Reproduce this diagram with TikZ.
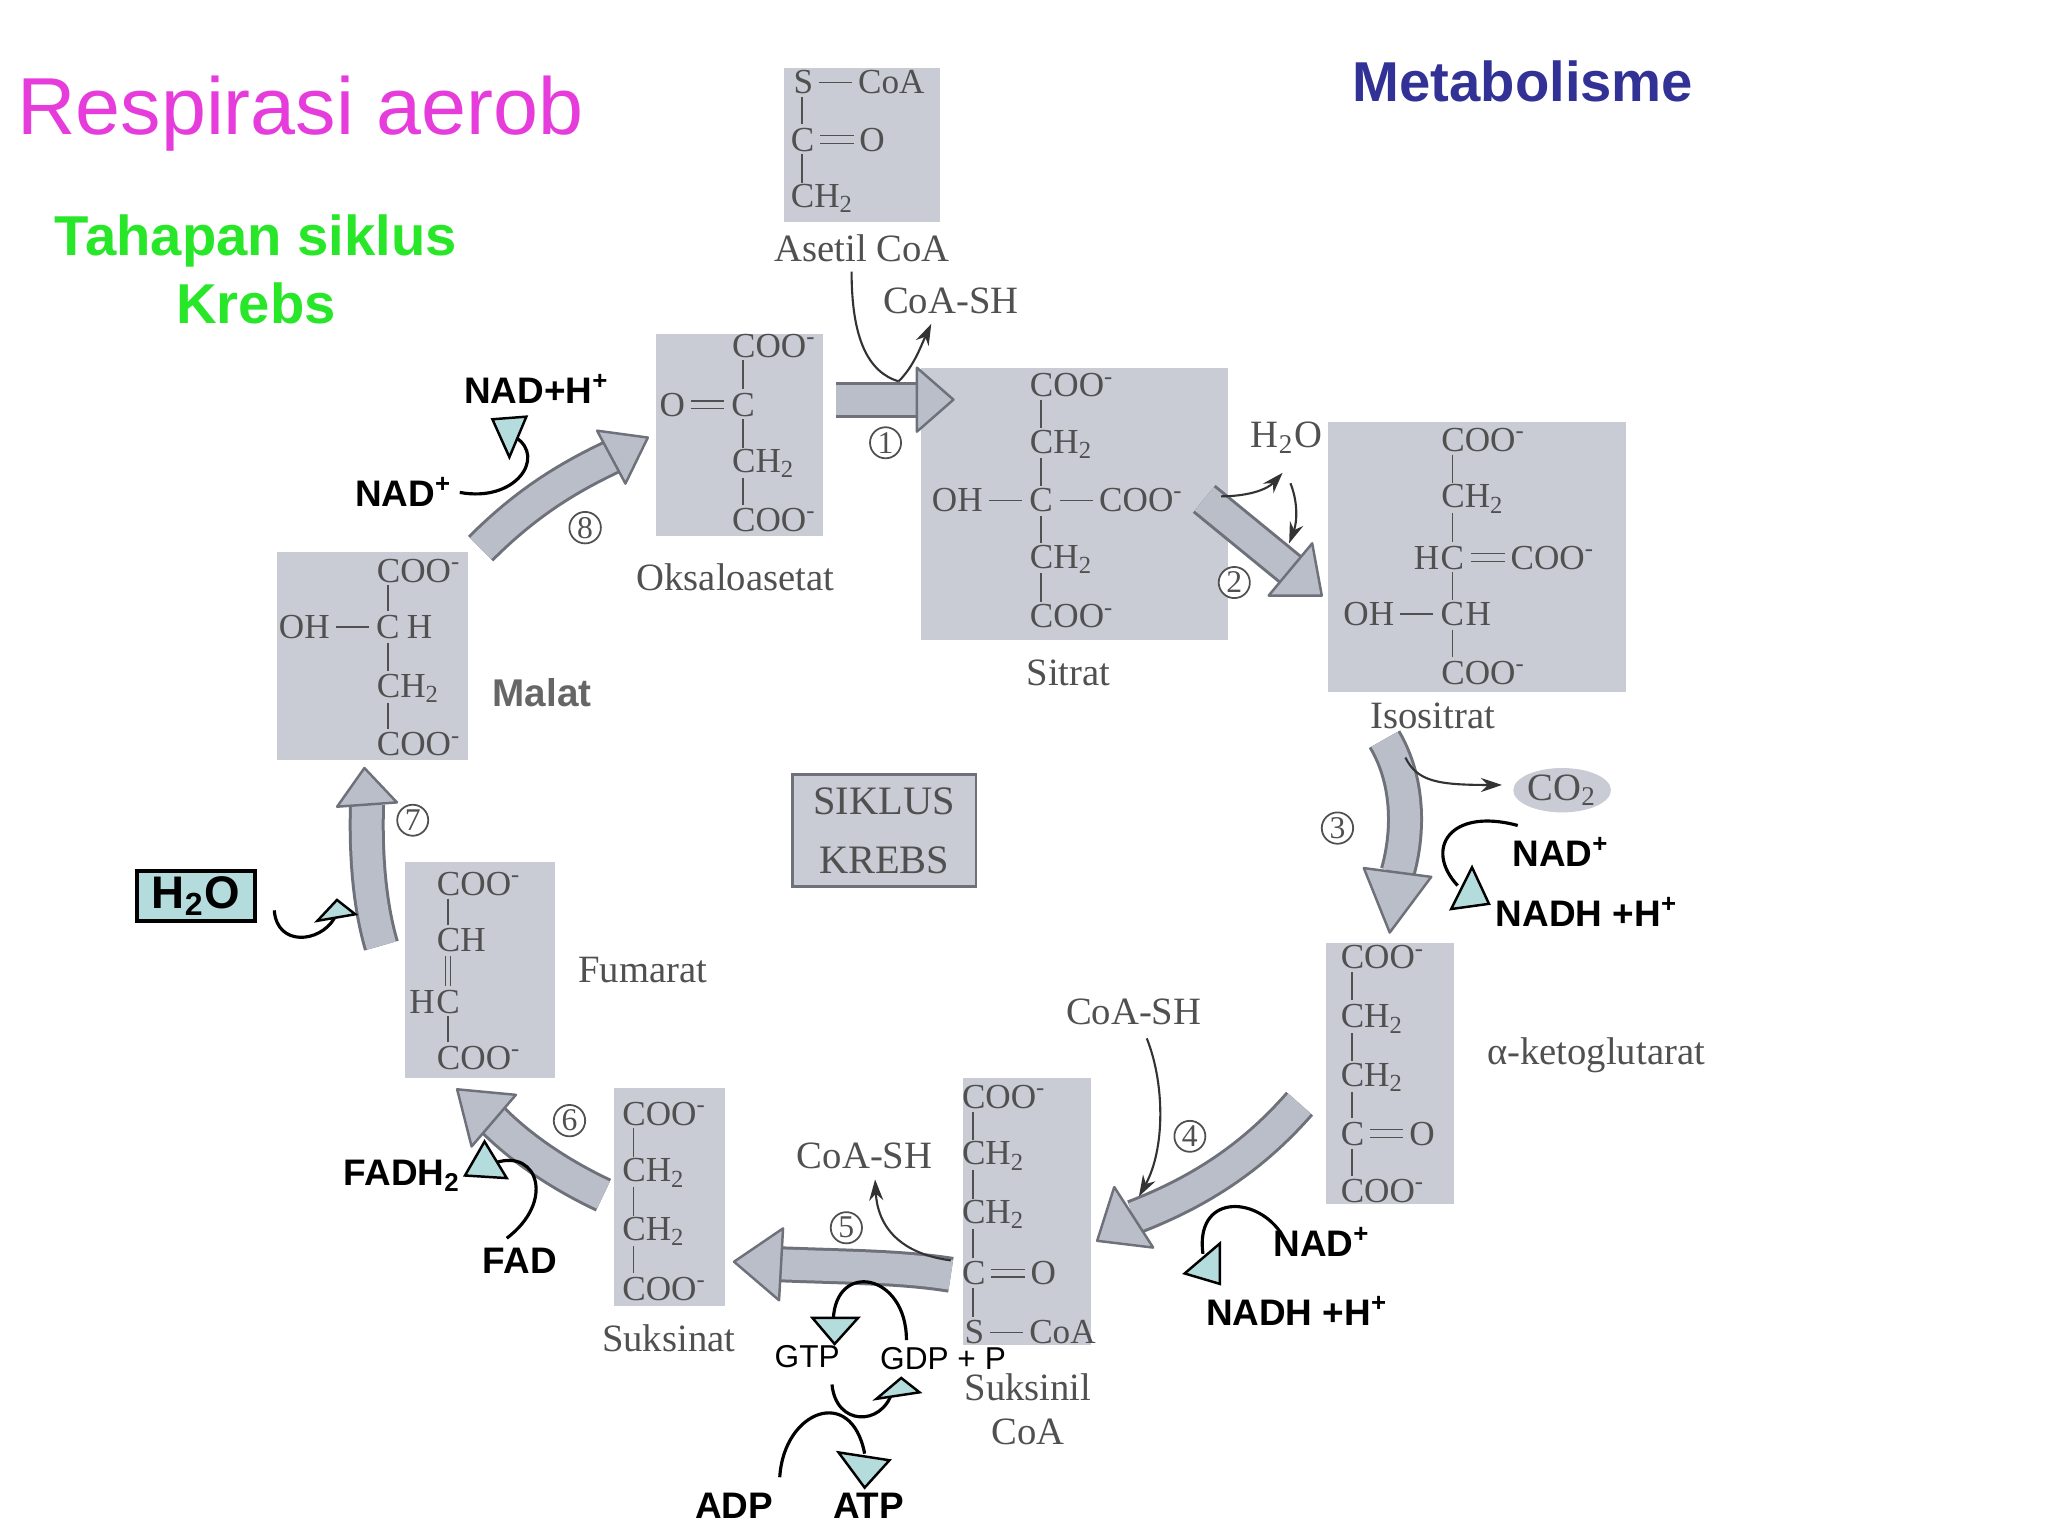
\documentclass[tikz,border=0pt]{standalone}
\usepackage{fontspec}
\setmainfont{Liberation Serif}
\newfontfamily\lsans{Liberation Sans}
\usetikzlibrary{calc,arrows.meta,shapes.geometric}
\definecolor{boxc}{HTML}{C9CCD5}
\definecolor{molc}{HTML}{505050}
\definecolor{arrin}{HTML}{BABEC8}
\definecolor{arrout}{HTML}{6E717A}
\definecolor{teal}{HTML}{B4DCDC}
\newcommand\mm{\textsuperscript{-}}
\newcommand\bd{\,\rule[0.3em]{0.95em}{0.45pt}\,}
\newcommand\db{\,\rlap{\rule[0.2em]{0.95em}{0.45pt}}\rule[0.42em]{0.95em}{0.45pt}\,}
\newcommand\molL[3]{\node[m,anchor=west] at (#1-9,#2) {#3};}
\newcommand\molC[5]{\node[m] (mc) at (#1,#2) {#4};
 \node[m,anchor=base east] (mp) at (mc.base west) {#3};
 \node[m,anchor=base west] (ms) at (mc.base east) {#5};}
\begin{document}
\begin{tikzpicture}[x=0.013061cm,y=-0.013061cm,
 mbox/.style={fill=boxc,draw=none},
 m/.style={font=\fontsize{10}{12}\selectfont,text=molc,inner sep=0pt},
 lab/.style={font=\fontsize{11}{13}\selectfont,text=molc,inner sep=0pt},
 bond/.style={draw=molc,line width=0.5pt},
 fatout/.style={draw=arrout,line width=0.36cm},
 fatin/.style={draw=arrin,line width=0.30cm},
 fathead/.style={fill=arrin,draw=arrout,line width=0.7pt,line join=round},
 num/.style={circle,draw=molc,line width=0.5pt,fill=white,inner sep=0.5pt,minimum size=0.3cm,font=\fontsize{9}{9}\selectfont,text=molc},
 thin/.style={draw=black!80,line width=0.6pt,-{Stealth[length=6pt,width=4pt]}},
 rx/.style={draw=black,line width=0.9pt},
 tri/.style={fill=teal,draw=black,line width=0.7pt,line join=miter},
 bl/.style={font=\lsans\bfseries\fontsize{10.5}{12}\selectfont,inner sep=0pt},
 sl/.style={font=\lsans\fontsize{9}{11}\selectfont,inner sep=0pt}]
\useasboundingbox (0,0) rectangle (1568,1176);
\fill[white] (0,0) rectangle (1568,1176);
% titles
\node[font=\lsans\fontsize{23}{26}\selectfont,text={rgb,255:red,230;green,60;blue,220}] (t1) at (230,87) {Respirasi aerob};
\node[font=\lsans\bfseries\fontsize{16}{18}\selectfont,text={rgb,255:red,50;green,50;blue,150}] (t2) at (1166,62) {Metabolisme};
\node[font=\lsans\bfseries\fontsize{16}{19.3}\selectfont,text={rgb,255:red,40;green,230;blue,40},align=center] (t3) at (196,206) {Tahapan siklus\\Krebs};
% boxes
\fill[mbox] (600,52) rectangle (720,170);
\fill[mbox] (502,256) rectangle (630,410);
\fill[mbox] (705,282) rectangle (940,490);
\fill[mbox] (1017,323) rectangle (1245,530);
\fill[mbox] (1015,722) rectangle (1113,922);
\fill[mbox] (737,825) rectangle (835,1030);
\fill[mbox] (470,833) rectangle (555,1000);
\fill[mbox] (310,660) rectangle (425,825);
\fill[mbox] (212,423) rectangle (358,582);
\node[draw=arrout,line width=0.8pt,fill=boxc,minimum width=1.72cm,text width=1.6cm,align=center,minimum height=1.12cm,font=\fontsize{11.5}{17}\selectfont,text=molc] (sk) at (677,636) {SIKLUS\\KREBS};
% Asetil CoA
\node[m,anchor=west] (a1) at (607,63) {S\bd CoA};
\molL{614}{107}{C\db O}
\molL{614}{152}{CH\textsubscript{2}}
\draw[bond] (614,74)--(614,95) (614,118)--(614,140);
\node[lab] (la) at (660,190) {Asetil CoA};
% Oksaloasetat
\molL{569}{265}{COO\mm}
\molC{569}{310}{O\db}{C}{}
\molL{569}{355}{CH\textsubscript{2}}
\molL{569}{398}{COO\mm}
\draw[bond] (569,276)--(569,298) (569,321)--(569,343) (569,366)--(569,387);
\node[lab] (lo) at (563,442) {Oksaloasetat};
% Sitrat
\molL{797}{295}{COO\mm}
\molL{797}{340}{CH\textsubscript{2}}
\molC{797}{383}{OH\bd}{C}{\bd COO\mm}
\molL{797}{428}{CH\textsubscript{2}}
\molL{797}{472}{COO\mm}
\draw[bond] (797,306)--(797,328) (797,351)--(797,372) (797,395)--(797,416) (797,439)--(797,461);
\node[lab] (ls) at (818,515) {Sitrat};
% Isositrat
\molL{1112}{337}{COO\mm}
\molL{1112}{382}{CH\textsubscript{2}}
\molC{1112}{427}{H}{C}{\db COO\mm}
\molC{1112}{470}{OH\bd}{C}{H}
\molL{1112}{515}{COO\mm}
\draw[bond] (1112,348)--(1112,370) (1112,393)--(1112,415) (1112,438)--(1112,459) (1112,482)--(1112,503);
\node[lab] (li) at (1097,548) {Isositrat};
% alpha-ketoglutarat
\molL{1035}{733}{COO\mm}
\molL{1035}{780}{CH\textsubscript{2}}
\molL{1035}{825}{CH\textsubscript{2}}
\molL{1035}{868}{C\db O}
\molL{1035}{912}{COO\mm}
\draw[bond] (1035,744)--(1035,766) (1035,791)--(1035,812) (1035,836)--(1035,856) (1035,880)--(1035,900);
\node[lab] (lk) at (1222,808) {α-ketoglutarat};
% Suksinil CoA
\molL{745}{840}{COO\mm}
\molL{745}{885}{CH\textsubscript{2}}
\molL{745}{930}{CH\textsubscript{2}}
\molL{745}{975}{C\db O}
\node[m,anchor=west] (u5) at (738,1020) {S\bd CoA};
\draw[bond] (745,851)--(745,873) (745,896)--(745,918) (745,941)--(745,963) (745,986)--(745,1008);
\node[lab] (lu1) at (787,1062) {Suksinil};
\node[lab] (lu2) at (787,1096) {CoA};
% Suksinat
\molL{485}{853}{COO\mm}
\molL{485}{898}{CH\textsubscript{2}}
\molL{485}{943}{CH\textsubscript{2}}
\molL{485}{987}{COO\mm}
\draw[bond] (485,864)--(485,886) (485,909)--(485,931) (485,954)--(485,975);
\node[lab] (ln) at (512,1025) {Suksinat};
% Fumarat
\molL{343}{677}{COO\mm}
\molL{343}{720}{CH}
\molC{343}{767}{H}{C}{}
\molL{343}{810}{COO\mm}
\draw[bond] (343,688)--(343,708) (343,798)--(343,778) (341,732)--(341,755) (345,732)--(345,755);
\node[lab] (lf) at (492,743) {Fumarat};
% Malat
\molL{297}{437}{COO\mm}
\molC{297}{480}{OH\bd}{C}{\,H}
\molL{297}{527}{CH\textsubscript{2}}
\molL{297}{570}{COO\mm}
\draw[bond] (297,448)--(297,468) (297,492)--(297,514) (297,538)--(297,558);
\node[font=\lsans\bfseries\fontsize{11}{12}\selectfont,text=black!60] (lm) at (415,530) {Malat};
% fat arrows
\coordinate (p1) at (702,306); \coordinate (q1) at (730,306);
\draw[fatout] (640,306)--(p1); \draw[fatin] (640,306)--(p1);
\draw[fathead] ($(p1)!0.32cm!90:(q1)$)--(q1)--($(p1)!0.32cm!-90:(q1)$)--cycle;
\coordinate (p2) at (988,436); \coordinate (q2) at (1012,456);
\draw[fatout] (922,382)--(p2); \draw[fatin] (922,382)--(p2);
\draw[fathead] ($(p2)!0.34cm!90:(q2)$)--(q2)--($(p2)!0.34cm!-90:(q2)$)--cycle;
\coordinate (p3) at (1070,668); \coordinate (q3) at (1064,714);
\draw[fatout] (1060,566) .. controls (1080,600) and (1078,640) .. (p3);
\draw[fatin] (1060,566) .. controls (1080,600) and (1078,640) .. (p3);
\draw[fathead] ($(p3)!0.34cm!90:(q3)$)--(q3)--($(p3)!0.34cm!-90:(q3)$)--cycle;
\coordinate (p4) at (868,932); \coordinate (q4) at (840,950);
\draw[fatout] (995,845) .. controls (960,885) and (920,912) .. (p4);
\draw[fatin] (995,845) .. controls (960,885) and (920,912) .. (p4);
\draw[fathead] ($(p4)!0.36cm!90:(q4)$)--(q4)--($(p4)!0.36cm!-90:(q4)$)--cycle;
\coordinate (p5) at (598,968); \coordinate (q5) at (562,966);
\draw[fatout] (728,976) .. controls (690,970) and (650,970) .. (p5);
\draw[fatin] (728,976) .. controls (690,970) and (650,970) .. (p5);
\draw[fathead] ($(p5)!0.36cm!90:(q5)$)--(q5)--($(p5)!0.36cm!-90:(q5)$)--cycle;
\coordinate (p6) at (378,858); \coordinate (q6) at (350,834);
\draw[fatout] (462,915) .. controls (430,900) and (400,880) .. (p6);
\draw[fatin] (462,915) .. controls (430,900) and (400,880) .. (p6);
\draw[fathead] ($(p6)!0.34cm!90:(q6)$)--(q6)--($(p6)!0.34cm!-90:(q6)$)--cycle;
\coordinate (p7) at (281,616); \coordinate (q7) at (279,588);
\draw[fatout] (292,724) .. controls (282,690) and (280,650) .. (p7);
\draw[fatin] (292,724) .. controls (282,690) and (280,650) .. (p7);
\draw[fathead] ($(p7)!0.30cm!90:(q7)$)--(q7)--($(p7)!0.30cm!-90:(q7)$)--cycle;
\coordinate (p8) at (468,350); \coordinate (q8) at (496,335);
\draw[fatout] (368,420) .. controls (400,388) and (430,368) .. (p8);
\draw[fatin] (368,420) .. controls (400,388) and (430,368) .. (p8);
\draw[fathead] ($(p8)!0.30cm!90:(q8)$)--(q8)--($(p8)!0.30cm!-90:(q8)$)--cycle;
% circled numbers
\node[num] (c1) at (678,339) {1};
\node[num] (c2) at (945,446) {2};
\node[num] (c3) at (1024,634) {3};
\node[num] (c4) at (911,870) {4};
\node[num] (c5) at (648,940) {5};
\node[num] (c6) at (436,858) {6};
\node[num] (c7) at (316,628) {7};
\node[num] (c8) at (448,404) {8};
% thin arrows of original
\node[lab] (cs1) at (728,230) {CoA-SH};
\coordinate (j1) at (688,292);
\draw[draw=black!80,line width=0.6pt] (652,208) .. controls (652,260) and (665,285) .. (j1);
\draw[thin] (j1) .. controls (700,280) and (705,265) .. (713,248);
\node[lab] (h2o) at (985,335) {H\textsubscript{2}O};
\draw[thin] (935,380) .. controls (955,380) and (970,375) .. (982,362);
\draw[thin] (988,370) .. controls (994,385) and (993,400) .. (987,416);
\node[ellipse,fill=boxc,inner sep=2pt,lab] (co2) at (1196,605) {CO\textsubscript{2}};
\draw[thin] (1076,580) .. controls (1085,598) and (1100,601) .. (1150,601);
\node[lab] (cs2) at (868,775) {CoA-SH};
\draw[thin] (878,795) .. controls (892,830) and (892,880) .. (872,916);
\node[lab] (cs3) at (662,885) {CoA-SH};
\draw[thin] (728,965) .. controls (690,960) and (672,940) .. (670,903);
% reaction side arrows (teal)
\node[bl] (nad8) at (309,377) {NAD\textsuperscript{+}};
\node[bl] (nadh8) at (411,298) {NAD+H\textsuperscript{+}};
\draw[rx] (352,377) .. controls (395,385) and (418,350) .. (395,335);
\draw[tri] (377,321)--(403,319)--(390,350)--cycle;
\node[bl] (nad3) at (1195,652) {NAD\textsuperscript{+}};
\node[bl] (nadh3) at (1215,698) {NADH +H\textsuperscript{+}};
\draw[rx] (1162,632) .. controls (1110,618) and (1090,650) .. (1116,678);
\draw[tri] (1127,664)--(1140,692)--(1111,696)--cycle;
\node[bl] (nad4) at (1012,951) {NAD\textsuperscript{+}};
\node[bl] (nadh4) at (993,1004) {NADH +H\textsuperscript{+}};
\draw[rx] (980,943) .. controls (960,915) and (915,915) .. (921,960);
\draw[tri] (934,952)--(934,983)--(907,975)--cycle;
\node[bl] (fadh) at (308,900) {FADH\textsubscript{2}};
\node[bl] (fad) at (398,965) {FAD};
\draw[rx] (388,948) .. controls (425,920) and (412,880) .. (380,890);
\draw[tri] (371,874)--(388,902)--(356,900)--cycle;
\node[draw=black,line width=0.9pt,fill=teal,minimum width=1.18cm,minimum height=0.5cm,bl,font=\lsans\bfseries\fontsize{13}{15}\selectfont] (h2ob) at (150,686) {H\textsubscript{2}O};
\draw[rx] (210,697) .. controls (212,725) and (245,722) .. (256,703);
\draw[tri] (243,705)--(272,700)--(258,689)--cycle;
\node[sl] (gtp) at (618,1039) {GTP};
\node[sl] (gdp) at (722,1040) {GDP + P};
\draw[rx] (694,1026) .. controls (694,975) and (640,965) .. (638,1010);
\draw[tri] (622,1009)--(657,1009)--(639,1029)--cycle;
\draw[rx] (637,1060) .. controls (640,1092) and (675,1092) .. (683,1066);
\draw[tri] (671,1071)--(704,1066)--(690,1055)--cycle;
\node[bl] (adp) at (562,1153) {ADP};
\node[bl] (atp) at (665,1153) {ATP};
\draw[rx] (597,1131) .. controls (600,1080) and (652,1060) .. (662,1113);
\draw[tri] (642,1112)--(681,1118)--(662,1139)--cycle;
\end{tikzpicture}
\end{document}
